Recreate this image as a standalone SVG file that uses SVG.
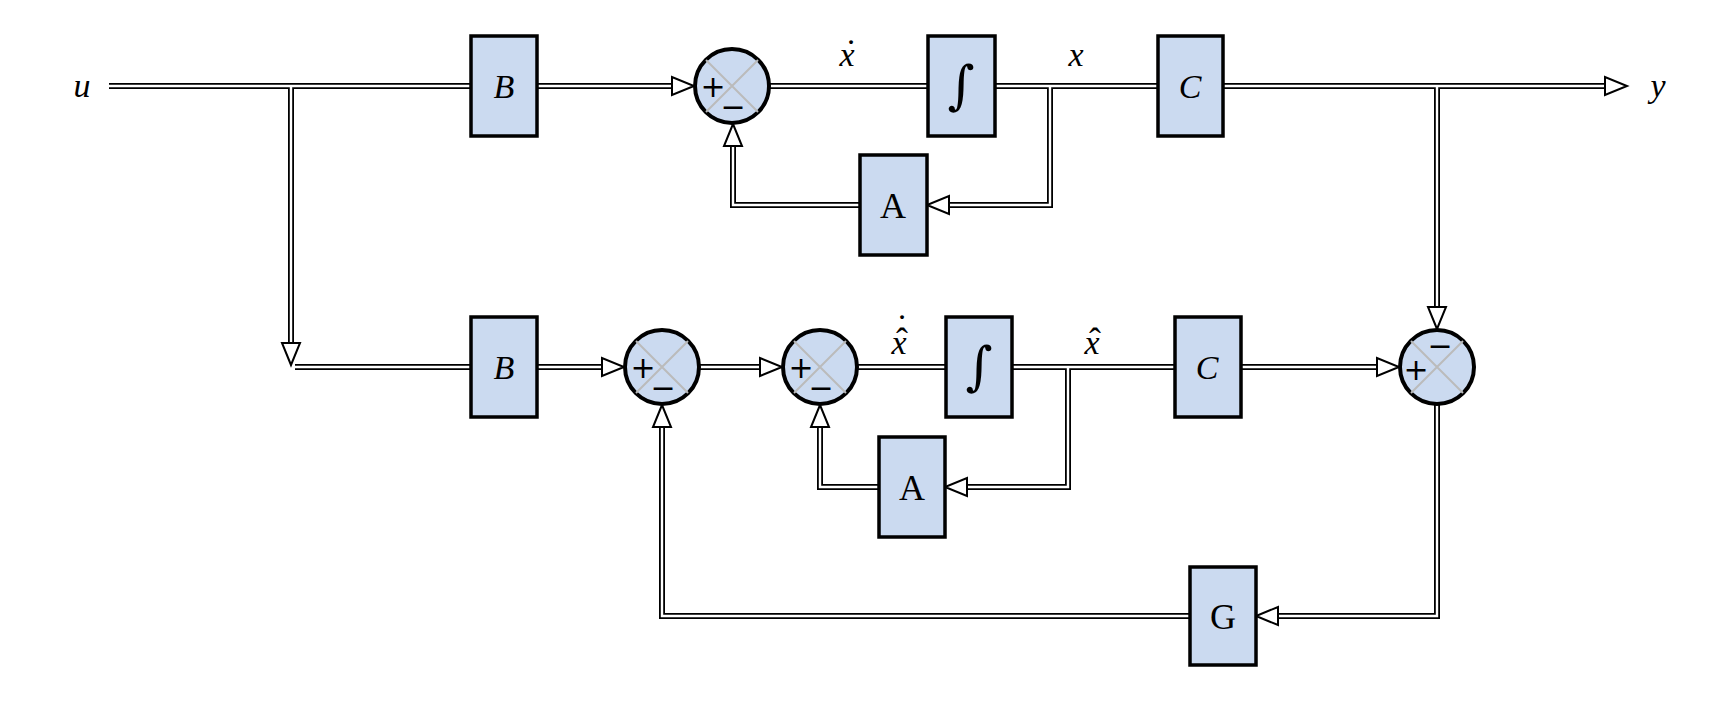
<svg xmlns="http://www.w3.org/2000/svg" width="1709" height="705" viewBox="0 0 1709 705">
<style>
.o{fill:none;stroke:#000;stroke-width:6}
.i{fill:none;stroke:#fff;stroke-width:2.4}
.ah{fill:#fff;stroke:#000;stroke-width:2}
.box{fill:#cbdaf0;stroke:#000;stroke-width:3.5}
.sum{fill:#cbdaf0;stroke:#000;stroke-width:4}
.x{stroke:#bbb;stroke-width:2}
.m{font-family:"Liberation Serif",serif;font-style:italic;font-size:34px;text-anchor:middle}
.r{font-family:"Liberation Serif",serif;font-size:36px;text-anchor:middle}
.int{font-family:"DejaVu Serif",serif;font-size:52px;text-anchor:middle}
.s{font-family:"DejaVu Sans",sans-serif;font-size:30px;text-anchor:middle}
</style>
<g id="connectors">
<g class="o">
<path d="M109,86H471M291,86V343M295,367H471M537,86H672M770,86H928M995,86H1158M1050,86V205H949M860,205H733V146M1223,86H1605M1437,86V307M537,367H602M700,367H760M858,367H946M1012,367H1175M1068,367V487H967M879,487H820V427M1241,367H1377M1437,405V616H1278M1190,616H662V427"/>
</g>
<g class="i">
<path d="M109,86H471M291,86V343M295,367H471M537,86H672M770,86H928M995,86H1158M1050,86V205H949M860,205H733V146M1223,86H1605M1437,86V307M537,367H602M700,367H760M858,367H946M1012,367H1175M1068,367V487H967M879,487H820V427M1241,367H1377M1437,405V616H1278M1190,616H662V427"/>
</g>
<g class="ah">
<polygon points="282,343 300,343 291,365"/>
<polygon points="672,77 672,95 694,86"/>
<polygon points="949,196 949,214 927,205"/>
<polygon points="724,146 742,146 733,124"/>
<polygon points="1605,77 1605,95 1627,86"/>
<polygon points="1428,307 1446,307 1437,329"/>
<polygon points="602,358 602,376 624,367"/>
<polygon points="760,358 760,376 782,367"/>
<polygon points="967,478 967,496 945,487"/>
<polygon points="811,427 829,427 820,405"/>
<polygon points="1377,358 1377,376 1399,367"/>
<polygon points="1278,607 1278,625 1256,616"/>
<polygon points="653,427 671,427 662,405"/>
</g>
</g>
<g id="labels">
<text class="m" x="82" y="97">u</text>
<text class="m" x="1658" y="97">y</text>
<text class="m" x="847" y="66">x</text><text class="r" x="851" y="64">˙</text>
<text class="m" x="1076" y="66">x</text>
<text class="m" x="899" y="354">x</text><text class="r" x="902" y="353">ˆ</text><text class="r" x="902" y="339">˙</text>
<text class="m" x="1092" y="354">x</text><text class="r" x="1095" y="353">ˆ</text>
</g>
<g id="B1"><rect class="box" x="471" y="36" width="66" height="100"/><text class="m" x="504" y="98">B</text></g>
<g id="INT1"><rect class="box" x="928" y="36" width="67" height="100"/><text class="int" x="961" y="103">∫</text></g>
<g id="C1"><rect class="box" x="1158" y="36" width="65" height="100"/><text class="m" x="1190" y="98">C</text></g>
<g id="A1"><rect class="box" x="860" y="155" width="67" height="100"/><text class="r" x="893" y="218">A</text></g>
<g id="B2"><rect class="box" x="471" y="317" width="66" height="100"/><text class="m" x="504" y="379">B</text></g>
<g id="INT2"><rect class="box" x="946" y="317" width="66" height="100"/><text class="int" x="979" y="384">∫</text></g>
<g id="C2"><rect class="box" x="1175" y="317" width="66" height="100"/><text class="m" x="1207" y="379">C</text></g>
<g id="A2"><rect class="box" x="879" y="437" width="66" height="100"/><text class="r" x="912" y="500">A</text></g>
<g id="G"><rect class="box" x="1190" y="567" width="66" height="98"/><text class="r" x="1223" y="629">G</text></g>
<g id="S1"><circle class="sum" cx="732" cy="86" r="37"/><path class="x" d="M706,60L758,112M758,60L706,112"/><text class="s" x="713" y="97">+</text><text class="s" x="733" y="117">−</text></g>
<g id="S2"><circle class="sum" cx="662" cy="367" r="37"/><path class="x" d="M636,341L688,393M688,341L636,393"/><text class="s" x="643" y="378">+</text><text class="s" x="663" y="398">−</text></g>
<g id="S3"><circle class="sum" cx="820" cy="367" r="37"/><path class="x" d="M794,341L846,393M846,341L794,393"/><text class="s" x="801" y="378">+</text><text class="s" x="821" y="398">−</text></g>
<g id="S4"><circle class="sum" cx="1437" cy="367" r="37"/><path class="x" d="M1411,341L1463,393M1463,341L1411,393"/><text class="s" x="1416" y="380">+</text><text class="s" x="1440" y="356">−</text></g>
</svg>
